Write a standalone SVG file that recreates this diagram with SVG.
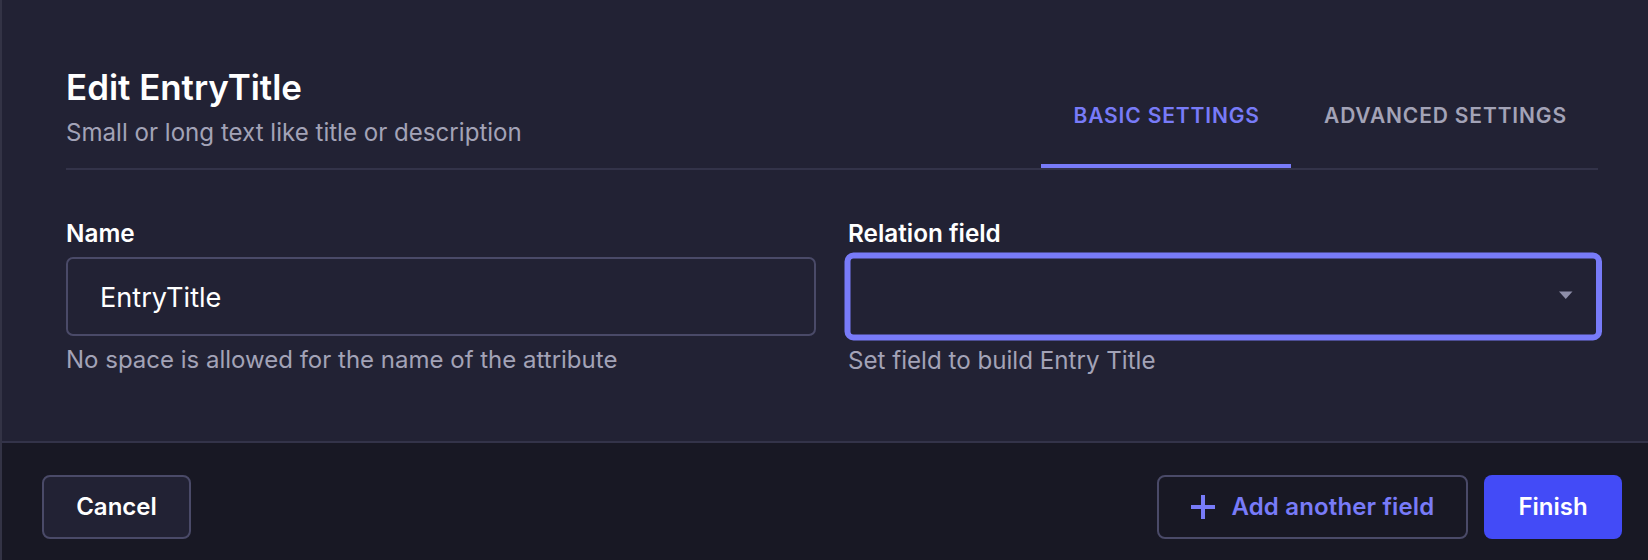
<svg xmlns="http://www.w3.org/2000/svg" width="1648" height="560" viewBox="0 0 1648 560">
<style>
text{font-family:Inter,"Liberation Sans",sans-serif}
.label{font-size:24.3px;font-weight:600;fill:#fff}
.help{font-size:24px;fill:#a3a3b7}
.tab{font-size:21px;font-weight:600;letter-spacing:.85px}
.btn{font-size:24px;font-weight:600}
</style>
<rect width="1648" height="560" fill="#222234"/>
<rect y="443" width="1648" height="117" fill="#181824"/>
<rect y="441" width="1648" height="2" fill="#333349"/>
<rect width="2" height="560" fill="#333345"/>
<g id="header">
<text x="66" y="99.5" font-size="34.9" font-weight="600" fill="#fff">Edit EntryTitle</text>
<text x="66" y="140.5" class="help" font-size="24.1" style="font-size:24.1px">Small or long text like title or description</text>
<rect x="66" y="168" width="1532" height="2" fill="#333349"/>
</g>
<g id="tab-basic">
<rect x="1041" y="164" width="250" height="4" fill="#787bf8"/>
<text x="1073.5" y="122.5" class="tab" fill="#787bf8">BASIC SETTINGS</text>
</g>
<g id="tab-advanced">
<text x="1324" y="122.5" class="tab" fill="#a3a3b7">ADVANCED SETTINGS</text>
</g>
<g id="name-field">
<text x="66" y="241.5" class="label">Name</text>
<rect x="67" y="258" width="748" height="77" rx="6" fill="#222234" stroke="#4a4a68" stroke-width="2"/>
<text x="100" y="306.5" font-size="27.1" fill="#fff">EntryTitle</text>
<text x="66" y="367.5" class="help">No space is allowed for the name of the attribute</text>
</g>
<g id="relation-field">
<text x="848" y="241.5" class="label">Relation field</text>
<rect x="847.5" y="255.5" width="751.5" height="82" rx="6" fill="#222234" stroke="#787bf8" stroke-width="6"/>
<path d="M1559 291.5h13.5l-6.75 7.5z" fill="#8e8ea9"/>
<text x="848" y="368.5" class="help" style="font-size:24.15px">Set field to build Entry Title</text>
</g>
<g id="cancel">
<rect x="43" y="476" width="147" height="62" rx="7" fill="#222234" stroke="#4a4a68" stroke-width="2"/>
<text x="116.5" y="515" class="btn" fill="#fff" text-anchor="middle">Cancel</text>
</g>
<g id="add-field">
<rect x="1158" y="476" width="309" height="62" rx="7" fill="#181824" stroke="#4a4a68" stroke-width="2"/>
<path d="M1191 507h24M1203 495v24" stroke="#787bf8" stroke-width="4" fill="none"/>
<text x="1231.5" y="515" class="btn" fill="#787bf8" letter-spacing=".15">Add another field</text>
</g>
<g id="finish">
<rect x="1484" y="475" width="138" height="64" rx="8" fill="#434bf7"/>
<text x="1553" y="515" class="btn" fill="#fff" text-anchor="middle">Finish</text>
</g>
</svg>
